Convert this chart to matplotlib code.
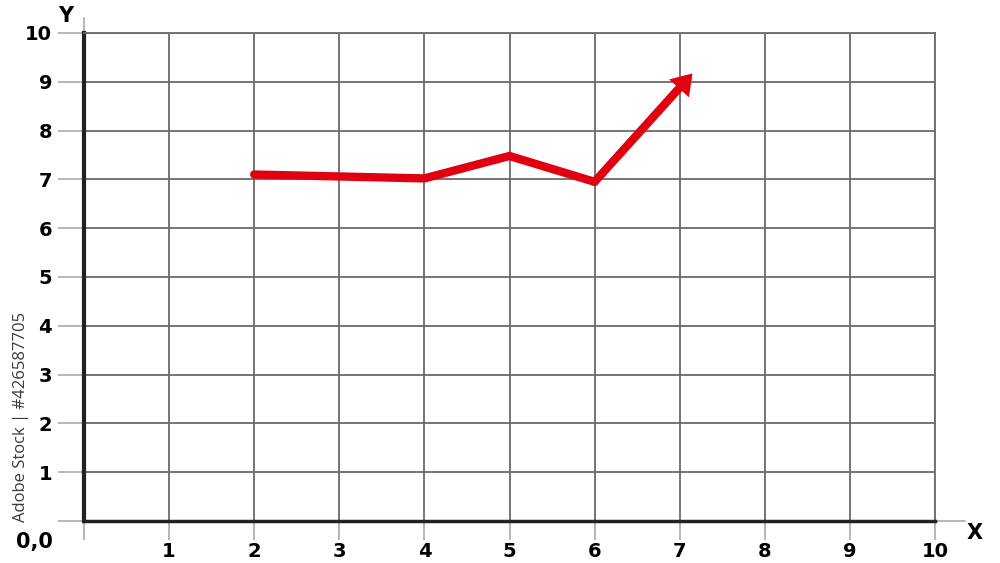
import numpy as np
import matplotlib.pyplot as plt

plt.rcParams['font.family'] = ['DejaVu Sans']

# data
x_vals = [2, 4, 5, 6, 7.15]
y_vals = [7.1, 7.02, 7.48, 6.95, 9.17]
x_ticks = list(range(0, 11))
y_ticks = list(range(0, 11))
x_labels = [''] + [str(i) for i in range(1, 11)]
y_labels = [''] + [str(i) for i in range(1, 11)]

red = '#e0000f'
grid_c = '#6a6a6a'

fig = plt.figure(figsize=(10, 5.63), dpi=100)
ax = fig.add_axes([0.084, 0.0746, 0.851, 0.8668])
ax.set_xlim(0, 10)
ax.set_ylim(0, 10)

ax.set_xticks(x_ticks)
ax.set_yticks(y_ticks)
ax.set_xticklabels(x_labels, fontsize=14, fontweight='bold')
ax.set_yticklabels(y_labels, fontsize=14, fontweight='bold')
ax.tick_params(axis='x', length=14, width=1.2, color='#aaaaaa', pad=1)
ax.tick_params(axis='y', length=19, width=1.2, color='#aaaaaa', pad=4)
ax.grid(True, color=grid_c, lw=1.3)
ax.set_axisbelow(True)

for s in ['top', 'right']:
    ax.spines[s].set_color(grid_c)
    ax.spines[s].set_linewidth(1.3)
ax.spines['left'].set_color('#222222')
ax.spines['left'].set_linewidth(3)
ax.spines['bottom'].set_color('#222222')
ax.spines['bottom'].set_linewidth(2.5)

# axis extensions
ax.plot([0, 0], [10, 10.3], color='#aaaaaa', lw=1.2, clip_on=False)
ax.plot([10, 10.35], [0, 0], color='#aaaaaa', lw=1.2, clip_on=False)

# red trend line with arrow head
ax.plot(x_vals[:-1], y_vals[:-1], color=red, lw=6,
        solid_capstyle='round', solid_joinstyle='miter', zorder=3)
ax.annotate('', xy=(x_vals[-1], y_vals[-1]), xytext=(x_vals[-2], y_vals[-2]),
            arrowprops=dict(arrowstyle='-|>,head_length=0.6,head_width=0.4',
                            color=red, lw=6, shrinkA=0, shrinkB=0,
                            joinstyle='miter'), zorder=3)

fig.text(0.066, 0.972, 'Y', fontsize=15, fontweight='bold', ha='center', va='center')
fig.text(0.975, 0.053, 'X', fontsize=15, fontweight='bold', ha='center', va='center')
fig.text(0.034, 0.038, '0,0', fontsize=15, fontweight='bold', ha='center', va='center')
fig.text(0.021, 0.26, 'Adobe Stock | #426587705', fontsize=12, color='#3a3a3a',
         rotation=90, ha='center', va='center', family=['Open Sans', 'DejaVu Sans'])

fig.savefig('out.png', dpi=100)
